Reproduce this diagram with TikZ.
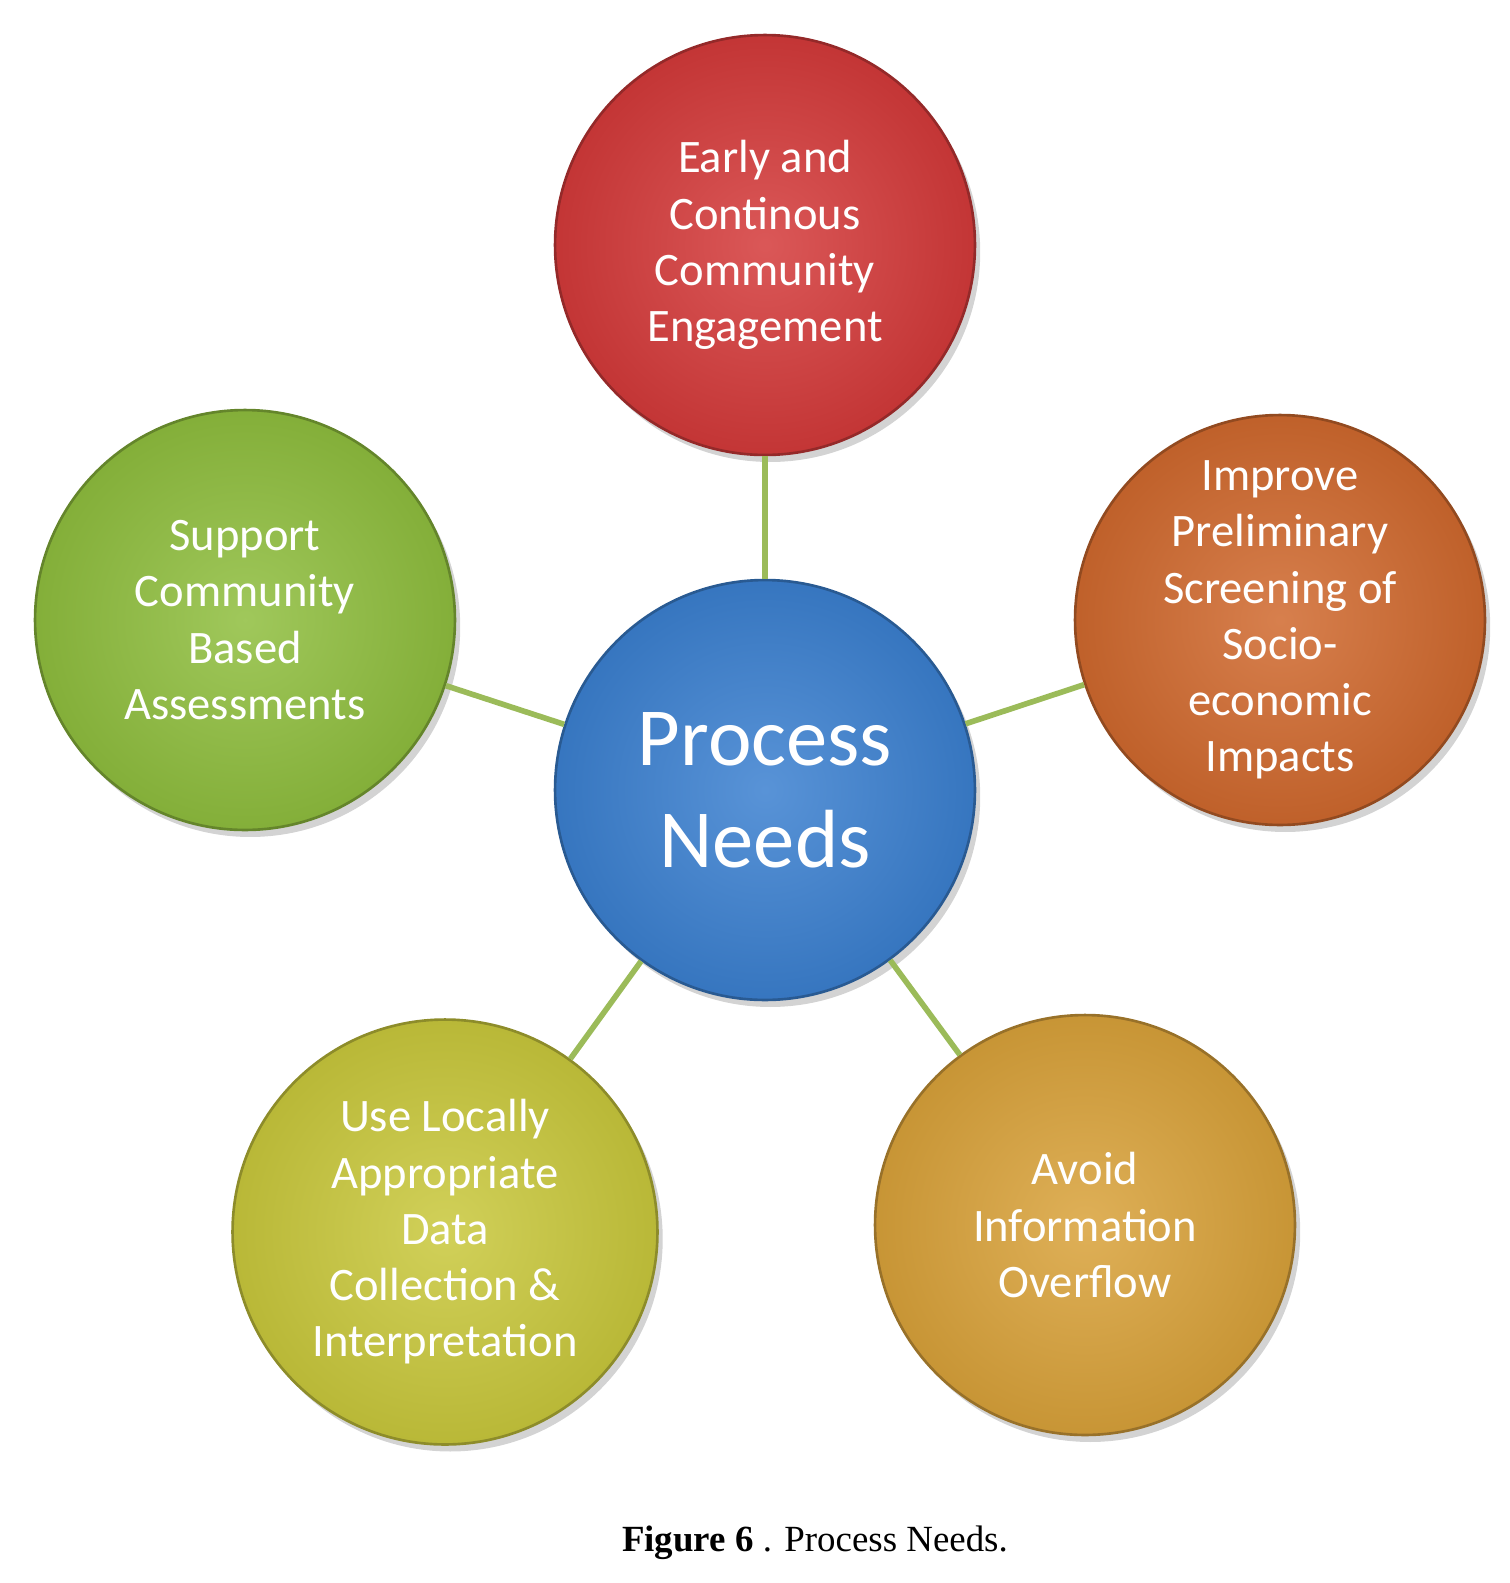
\documentclass[tikz,border=0pt]{standalone}
\usepackage{fontspec}
\setmainfont{Carlito}
\newfontfamily\capfont{Liberation Serif}
\usetikzlibrary{shadows}
\definecolor{cred}{HTML}{D43A3A}
\definecolor{corange}{HTML}{D0692E}
\definecolor{cgold}{HTML}{D9A23A}
\definecolor{cyel}{HTML}{C9C83C}
\definecolor{cgreen}{HTML}{8FBE3E}
\definecolor{cblue}{HTML}{3B80D0}
\definecolor{cline}{HTML}{9BBB59}
\begin{document}
\begin{tikzpicture}[x=0.02cm,y=-0.02cm,
  bub/.style={circle,minimum size=8.4cm,inner sep=0pt,align=center,text=white,
    font=\fontsize{26.5}{32}\selectfont,draw=#1!70!black,line width=1.5pt,
    inner color=#1!85!white,outer color=#1!92!black,
    drop shadow={shadow xshift=3pt,shadow yshift=-4pt,opacity=0.35}},
  conn/.style={draw=cline,line width=3.2pt}]
\useasboundingbox (0,0) rectangle (1509,1583);
\clip (0,0) rectangle (1509,1583);
\node[bub=cblue,font=\fontsize{47}{58}\selectfont] (c) at (765,790) {Process\\Needs};
\node[bub=cred] (t) at (765,245) {Early and\\Continous\\Community\\Engagement};
\node[bub=corange,minimum size=8.2cm] (r) at (1280,620) {Improve\\Preliminary\\Screening of\\Socio-\\economic\\Impacts};
\node[bub=cgold] (br) at (1085,1225) {Avoid\\Information\\Overflow};
\node[bub=cyel,minimum size=8.5cm] (bl) at (445,1232) {Use Locally\\Appropriate\\Data\\Collection \&\\Interpretation};
\node[bub=cgreen] (l) at (245,620) {Support\\Community\\Based\\Assessments};
\foreach \n in {t,r,br,bl,l} \draw[conn] (c) -- (\n);
\node[font=\capfont\fontsize{21}{25}\selectfont] (cap) at (815,1543) {\textbf{Figure 6} . Process Needs.};
\end{tikzpicture}
\end{document}
